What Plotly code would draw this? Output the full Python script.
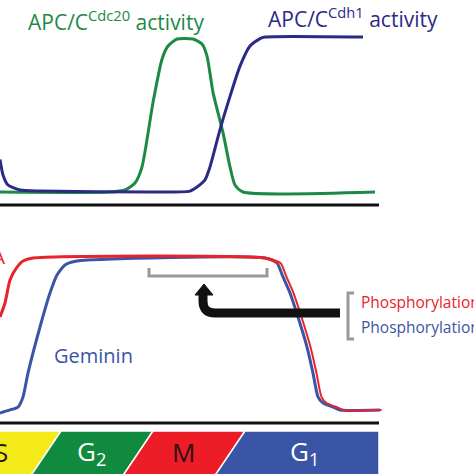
import plotly.graph_objects as go

W = H = 474
FONT = "Open Sans"

# APC/C activity (top panel), level 0..1 against cycle time
cdc20_t = [0, 110, 125, 135, 142, 153, 162, 168, 177, 193, 202, 207, 213, 223, 230, 235, 243, 375]
cdc20_level = [0, 0, 0.013, 0.058, 0.162, 0.578, 0.857, 0.942, 0.987, 0.987, 0.955, 0.877, 0.643, 0.383, 0.162, 0.045, 0, 0]

cdh1_t = [0, 3, 8, 20, 40, 150, 190, 197, 205, 210, 220, 230, 240, 250, 260, 265, 363]
cdh1_level = [0.21, 0.11, 0.045, 0.013, 0.006, 0, 0.006, 0.032, 0.078, 0.162, 0.403, 0.617, 0.812, 0.942, 0.99, 1.0, 1.0]

# protein levels (bottom panel)
red_t = [0, 5, 10, 17, 23, 33, 265, 279, 285, 292, 300, 309, 315, 320, 325, 335, 342, 380]
red_level = [0.614, 0.706, 0.856, 0.941, 0.98, 1.0, 1.0, 0.967, 0.876, 0.771, 0.614, 0.418, 0.248, 0.092, 0.052, 0.026, 0.007, 0.007]

geminin_t = [0, 10, 18, 23, 28, 40, 50, 57, 65, 77, 265, 277, 283, 290, 298, 307, 313, 318, 323, 333, 340, 380]
geminin_level = [-0.013, 0.007, 0.026, 0.092, 0.248, 0.549, 0.771, 0.889, 0.954, 0.98, 1.0, 0.967, 0.876, 0.771, 0.614, 0.418, 0.248, 0.092, 0.052, 0.026, 0.007, 0.007]

# cell cycle phases
phases = ["S", "G<sub>2</sub>", "M", "G<sub>1</sub>"]
phase_start = [-27, 61, 153, 245]
phase_end = [61, 153, 245, 379]
phase_colors = ["#f4ea1a", "#0f8a3e", "#ec1d26", "#3a55a5"]
phase_text = ["#231f20", "white", "#2a1214", "white"]

GREEN = "#1c8a45"
NAVY = "#2b2b86"
RED = "#e8232b"
BLUE = "#3b55a5"


def px(x):
    return x / W


def py(y):
    return 1 - y / H


fig = go.Figure()
line_kw = dict(shape="spline", smoothing=0.6, width=3)
fig.add_trace(go.Scatter(x=cdc20_t, y=cdc20_level, mode="lines", line=dict(color=GREEN, **line_kw), yaxis="y"))
fig.add_trace(go.Scatter(x=cdh1_t, y=cdh1_level, mode="lines", line=dict(color=NAVY, **line_kw), yaxis="y"))
fig.add_trace(go.Scatter(x=geminin_t, y=geminin_level, mode="lines", line=dict(color=BLUE, **line_kw), yaxis="y2"))
fig.add_trace(go.Scatter(x=[t + 1.5 for t in red_t[6:]], y=red_level[6:], mode="lines",
                         line=dict(color=RED, shape="spline", smoothing=0.6, width=2), yaxis="y2"))
fig.add_trace(go.Scatter(x=red_t[:8], y=red_level[:8], mode="lines", line=dict(color=RED, **line_kw), yaxis="y2"))

shapes = []
# axis rules
for yy in (205, 423):
    shapes.append(dict(type="line", xref="paper", yref="paper", x0=0, x1=px(379), y0=py(yy), y1=py(yy),
                       line=dict(color="#111111", width=3)))

# phase bar
slant = 33
top, bot = py(431), py(480)
for i, name in enumerate(phases):
    x0, x1 = phase_start[i], phase_end[i]
    x1b = x1 if i == len(phases) - 1 else x1 - slant
    path = f"M {x0},{top} L {x1},{top} L {x1b},{bot} L {x0 - slant},{bot} Z"
    shapes.append(dict(type="path", xref="x", yref="paper", path=path, fillcolor=phase_colors[i],
                       line=dict(color="white", width=1.5), layer="above"))

# grey bracket under the plateau
shapes.append(dict(type="path", xref="paper", yref="paper",
                   path=f"M {px(149)},{py(268)} L {px(149)},{py(276)} L {px(267)},{py(276)} L {px(267)},{py(268)}",
                   line=dict(color="#999999", width=3)))
# grey legend bracket
shapes.append(dict(type="path", xref="paper", yref="paper",
                   path=f"M {px(354)},{py(293)} L {px(348)},{py(293)} L {px(348)},{py(339)} L {px(354)},{py(339)}",
                   line=dict(color="#999999", width=3)))
# black arrow
shapes.append(dict(type="path", xref="paper", yref="paper",
                   path=f"M {px(340)},{py(313)} L {px(215)},{py(313)} Q {px(203)},{py(313)} {px(203)},{py(301)} L {px(203)},{py(294)}",
                   line=dict(color="#111111", width=9)))
shapes.append(dict(type="path", xref="paper", yref="paper",
                   path=f"M {px(195)},{py(295)} L {px(204)},{py(284)} L {px(213)},{py(295)} Z",
                   fillcolor="#111111", line=dict(color="#111111", width=1)))

annotations = []


def text(x, y, s, color, size, xanchor="left", xref="paper"):
    annotations.append(dict(x=x, y=py(y), xref=xref, yref="paper", text=s, showarrow=False,
                            xanchor=xanchor, yanchor="middle",
                            font=dict(family=FONT, size=size, color=color)))


text(px(26), 20, "APC/C<sup>Cdc20</sup> activity", GREEN, 21)
text(px(266), 17, "APC/C<sup>Cdh1</sup> activity", NAVY, 21)
text(px(52), 355, "Geminin", BLUE, 20)
text(px(359), 302, "Phosphorylation", RED, 15.5)
text(px(359), 327, "Phosphorylation", BLUE, 15.5)
text(px(7), 257, "A", RED, 19, xanchor="right")

for i, name in enumerate(phases):
    x1 = phase_end[i] if i == len(phases) - 1 else phase_end[i] - 16
    cx = (phase_start[i] - 16 + x1) / 2
    text(cx, 452, name, phase_text[i], 26, xanchor="center", xref="x")

top_lo, top_hi = (192 - 474) / 155, 192 / 155
bot_lo, bot_hi = (411 - 474) / 153, 411 / 153

fig.update_layout(
    width=W, height=H, margin=dict(l=0, r=0, t=0, b=0),
    paper_bgcolor="white", plot_bgcolor="white", showlegend=False,
    xaxis=dict(range=[0, W], visible=False, fixedrange=True),
    yaxis=dict(range=[top_lo, top_hi], visible=False, domain=[0, 1], fixedrange=True),
    yaxis2=dict(range=[bot_lo, bot_hi], visible=False, overlaying="y", fixedrange=True),
    shapes=shapes, annotations=annotations,
)

fig.write_html("out.html", config={"displayModeBar": False},
               post_script="document.body.style.margin='0';document.body.style.overflow='hidden';")
